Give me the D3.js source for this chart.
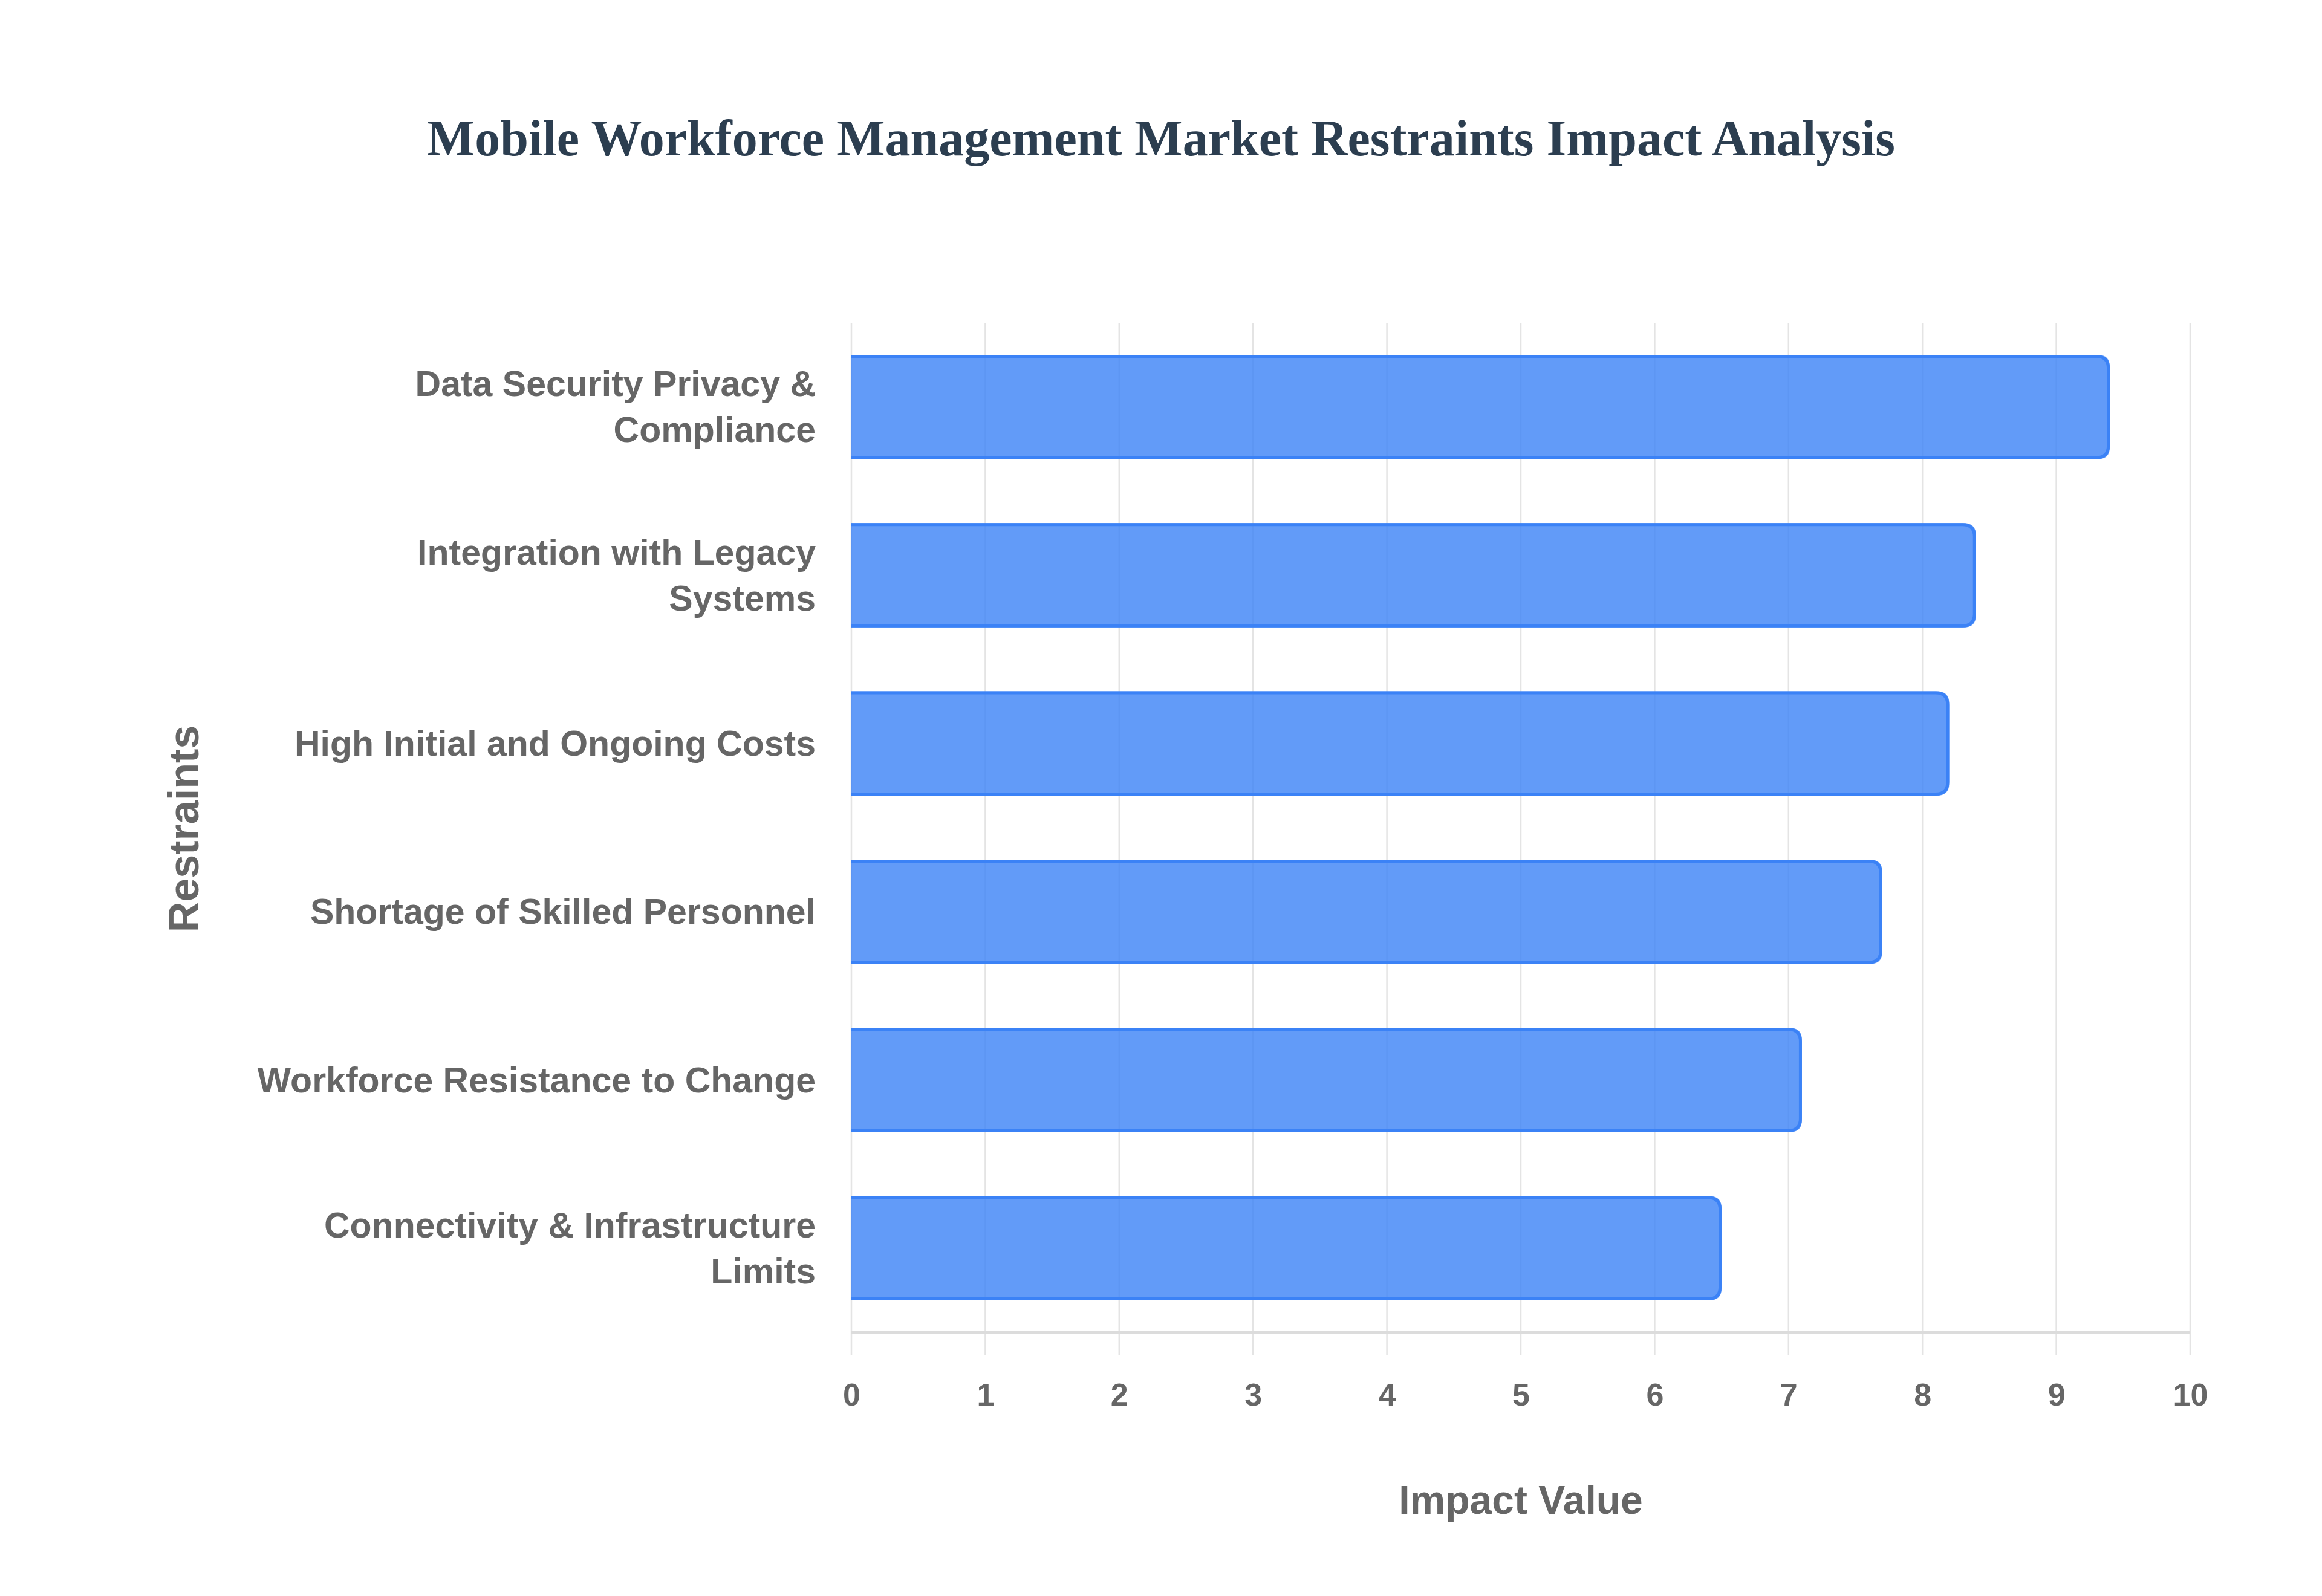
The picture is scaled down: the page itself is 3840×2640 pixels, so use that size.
<!DOCTYPE html>
<html>
<head>
<meta charset="utf-8">
<script src="https://cdn.jsdelivr.net/npm/d3@7"></script>
<style>
  html, body { margin: 0; padding: 0; background: #fff; }
</style>
</head>
<body>
<div id="chart"></div>
<script>
// restraint names (top to bottom) and how they wrap on the axis
const restraints = [
  'Data Security Privacy & Compliance',
  'Integration with Legacy Systems',
  'High Initial and Ongoing Costs',
  'Shortage of Skilled Personnel',
  'Workforce Resistance to Change',
  'Connectivity & Infrastructure Limits'
];
const restraintLines = [
  ['Data Security Privacy &', 'Compliance'],
  ['Integration with Legacy', 'Systems'],
  ['High Initial and Ongoing Costs'],
  ['Shortage of Skilled Personnel'],
  ['Workforce Resistance to Change'],
  ['Connectivity & Infrastructure', 'Limits']
];
const impactValues = [9.4, 8.4, 8.2, 7.7, 7.1, 6.5];
const xTicks = [0, 1, 2, 3, 4, 5, 6, 7, 8, 9, 10];

const width = 3840, height = 2640;
const margin = { top: 534, right: 218, bottom: 436, left: 1408 };
const innerW = width - margin.left - margin.right;
const innerH = height - margin.top - margin.bottom;
const sans = '"Liberation Sans", Arial, Helvetica, sans-serif';

const svg = d3.select('#chart').append('svg')
  .attr('width', width)
  .attr('height', height)
  .style('display', 'block');

svg.append('rect').attr('width', width).attr('height', height).attr('fill', '#fff');

// title
svg.append('text')
  .attr('x', width / 2)
  .attr('y', 228)
  .attr('text-anchor', 'middle')
  .attr('dominant-baseline', 'central')
  .style('font-family', '"Liberation Serif", "Times New Roman", serif')
  .style('font-weight', 'bold')
  .style('font-size', '84px')
  .style('fill', '#2c3e50')
  .text('Mobile Workforce Management Market Restraints Impact Analysis');

const g = svg.append('g')
  .attr('transform', `translate(${margin.left}, ${margin.top})`);

const xScale = d3.scaleLinear()
  .domain([0, 10])
  .range([0, innerW]);

const yScale = d3.scaleBand()
  .domain(restraints)
  .range([0, innerH])
  .paddingInner(0.38)
  .paddingOuter(0.19);

// vertical grid lines (run a bit past the axis as tick marks)
g.append('g')
  .selectAll('line')
  .data(xTicks)
  .enter()
  .append('line')
  .attr('x1', d => xScale(d))
  .attr('x2', d => xScale(d))
  .attr('y1', 0)
  .attr('y2', innerH + 37)
  .attr('stroke', '#e4e4e4')
  .attr('stroke-width', 2.5);

// bottom axis line
g.append('line')
  .attr('x1', 0)
  .attr('x2', innerW)
  .attr('y1', innerH)
  .attr('y2', innerH)
  .attr('stroke', '#dcdcdc')
  .attr('stroke-width', 4);

// bars: flat on the left, rounded on the right, border on three sides
const r = 20, bw = 5;
const bars = g.append('g')
  .selectAll('g')
  .data(restraints.map((name, i) => ({ name, value: impactValues[i] })))
  .enter()
  .append('g');

bars.append('path')
  .attr('d', d => {
    const x1 = xScale(d.value), y0 = yScale(d.name), y1 = y0 + yScale.bandwidth();
    return `M0,${y0} H${x1 - r} Q${x1},${y0} ${x1},${y0 + r} V${y1 - r} Q${x1},${y1} ${x1 - r},${y1} H0 Z`;
  })
  .attr('fill', 'rgba(59,130,246,0.8)');

bars.append('path')
  .attr('d', d => {
    const x1 = xScale(d.value) - bw / 2, y0 = yScale(d.name) + bw / 2, y1 = yScale(d.name) + yScale.bandwidth() - bw / 2;
    return `M0,${y0} H${x1 - r} Q${x1},${y0} ${x1},${y0 + r} V${y1 - r} Q${x1},${y1} ${x1 - r},${y1} H0`;
  })
  .attr('fill', 'none')
  .attr('stroke', 'rgb(59,130,246)')
  .attr('stroke-width', bw);

// x axis labels
const xAxis = g.append('g')
  .attr('transform', `translate(0, ${innerH + 103})`)
  .call(d3.axisBottom(xScale).tickValues(xTicks).tickSize(0).tickPadding(0).tickFormat(d3.format('d')));
xAxis.select('.domain').remove();
xAxis.selectAll('text')
  .attr('dy', '0.35em')
  .style('font-family', sans)
  .style('font-weight', 'bold')
  .style('font-size', '52px')
  .style('fill', '#666');

// y axis labels (multi-line)
const lineH = 76;
const yLabels = g.append('g')
  .selectAll('text')
  .data(restraints)
  .enter()
  .append('text')
  .attr('x', -59)
  .attr('y', d => yScale(d) + yScale.bandwidth() / 2)
  .attr('text-anchor', 'end')
  .style('font-family', sans)
  .style('font-weight', 'bold')
  .style('font-size', '59px')
  .style('fill', '#666');

yLabels.each(function (d, i) {
  const lines = restraintLines[i];
  const start = -(lines.length - 1) * lineH / 2;
  d3.select(this).selectAll('tspan')
    .data(lines)
    .enter()
    .append('tspan')
    .attr('x', -59)
    .attr('dy', (l, j) => j === 0 ? start : lineH)
    .attr('dominant-baseline', 'central')
    .text(l => l);
});

// axis titles
svg.append('text')
  .attr('x', margin.left + innerW / 2)
  .attr('y', 2481)
  .attr('text-anchor', 'middle')
  .attr('dominant-baseline', 'central')
  .style('font-family', sans)
  .style('font-weight', 'bold')
  .style('font-size', '66px')
  .style('fill', '#666')
  .text('Impact Value');

svg.append('text')
  .attr('transform', 'translate(304, 1371) rotate(-90)')
  .attr('text-anchor', 'middle')
  .attr('dominant-baseline', 'central')
  .style('font-family', sans)
  .style('font-weight', 'bold')
  .style('font-size', '70px')
  .style('fill', '#666')
  .text('Restraints');
</script>
</body>
</html>
